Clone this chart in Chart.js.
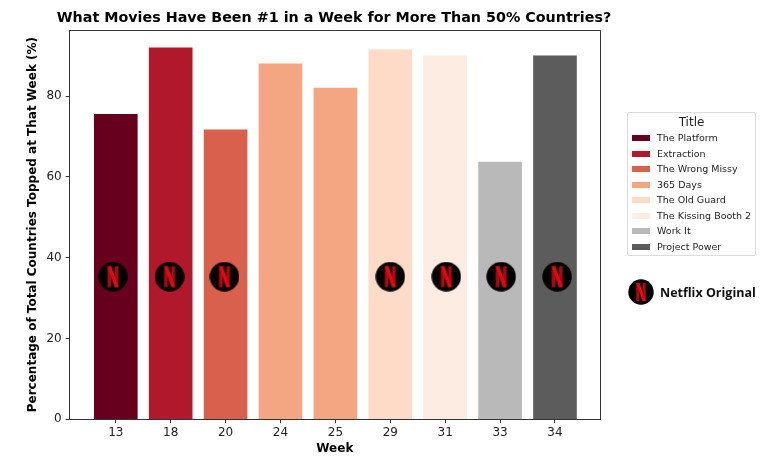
<!DOCTYPE html>
<html>
<head>
<meta charset="utf-8">
<script src="https://cdn.jsdelivr.net/npm/chart.js@4"></script>
<style>
  html, body { margin: 0; background: #fff; }
  #wrap { position: relative; width: 768px; height: 456px; overflow: hidden; }
  #title { position: absolute; left: 34px; top: 8px; width: 600px; text-align: center; white-space: nowrap; font: bold 14.3px/18px "DejaVu Sans"; color: #000; }
  #legend { position: absolute; left: 627px; top: 112px; width: 127px; height: 142px; border: 1px solid #dcdcdc; border-radius: 2px; font: 9.5px "DejaVu Sans"; color: #222; }
  #legend .ttl { text-align: center; font-size: 12px; line-height: 14px; margin-top: 2px; margin-bottom: 1px; }
  #legend .row { height: 15.5px; line-height: 15.5px; white-space: nowrap; }
  #legend .sw { display: inline-block; width: 18px; height: 6px; margin: 0 7px 1px 4px; vertical-align: middle; }
  #nf { position: absolute; left: 628px; top: 279px; height: 26px; display: flex; align-items: center; font: bold 12.5px "Open Sans"; color: #111; }
  #nf canvas { margin-right: 6px; }
</style>
</head>
<body>
<div id="wrap">
  <canvas id="myChart" width="768" height="456"></canvas>
  <div id="title">What Movies Have Been #1 in a Week for More Than 50% Countries?</div>
  <div id="legend"></div>
  <div id="nf"></div>
</div>
<script>
const weeks = ['13', '18', '20', '24', '25', '29', '31', '33', '34'];
const topped = [75.5, 92, 71.7, 88, 82, 91.5, 90, 63.7, 90];
const colors = ['#67001f', '#b2182b', '#d9604d', '#f4a582', '#f4a582', '#fddbc7', '#fdece2', '#b9b9b9', '#5c5c5c'];
// logos were pasted on by hand in the original, so they sit a little off the bar centres
const logoX = [-0.05, 0.98, 1.98, 5.0, 6.02, 7.02, 8.04];
const logoY = [35.3, 35.3, 35.3, 35.3, 35.3, 35.3, 35.3];
const legendNames = ['The Platform', 'Extraction', 'The Wrong Missy', '365 Days', 'The Old Guard', 'The Kissing Booth 2', 'Work It', 'Project Power'];
const legendColors = ['#67001f', '#b2182b', '#d9604d', '#f4a582', '#fddbc7', '#fdece2', '#b9b9b9', '#5c5c5c'];
const yTicks = [0, 20, 40, 60, 80];

// netflix badge, used as the point style and in the side note
function makeLogo(size) {
  const c = document.createElement('canvas');
  c.width = size; c.height = size;
  const g = c.getContext('2d');
  const s = size / 30;
  g.fillStyle = '#000';
  g.beginPath();
  g.arc(size / 2, size / 2, size / 2 - 0.3, 0, Math.PI * 2);
  g.fill();
  g.fillStyle = '#a80a12';
  g.fillRect(9.5 * s, 4.5 * s, 3.6 * s, 21 * s);
  g.fillRect(16.9 * s, 4.5 * s, 3.6 * s, 21 * s);
  g.fillStyle = '#e50914';
  g.beginPath();
  g.moveTo(9.5 * s, 4.5 * s);
  g.lineTo(13.3 * s, 4.5 * s);
  g.lineTo(20.5 * s, 25.5 * s);
  g.lineTo(16.7 * s, 25.5 * s);
  g.closePath();
  g.fill();
  return c;
}

const frame = {
  id: 'frame',
  afterDraw(chart) {
    const a = chart.chartArea, g = chart.ctx;
    g.save();
    g.strokeStyle = '#333';
    g.lineWidth = 1;
    g.beginPath();
    g.moveTo(a.left, a.top + 0.5);
    g.lineTo(a.right + 0.5, a.top + 0.5);
    g.lineTo(a.right + 0.5, a.bottom);
    g.stroke();
    g.restore();
  }
};

new Chart(document.getElementById('myChart'), {
  type: 'bar',
  data: {
    datasets: [{
      label: 'Netflix Original',
      type: 'scatter',
      order: 0,
      data: logoX.map((x, i) => ({ x: x, y: logoY[i] })),
      pointStyle: makeLogo(30),
      pointRadius: 15
    }, {
      label: 'Share',
      order: 1,
      data: topped.map((v, i) => ({ x: i, y: v })),
      backgroundColor: colors,
      barThickness: 43
    }]
  },
  options: {
    responsive: false,
    animation: false,
    layout: { padding: { left: 26, right: 168, top: 30, bottom: 0 } },
    plugins: {
      legend: { display: false },
      tooltip: { enabled: false }
    },
    scales: {
      x: {
        type: 'linear',
        offset: false,
        min: -0.84,
        max: 8.82,
        afterBuildTicks(scale) { scale.ticks = weeks.map((w, i) => ({ value: i })); },
        grid: { offset: false, drawOnChartArea: false, tickLength: 4, tickColor: '#333' },
        border: { color: '#333' },
        ticks: {
          autoSkip: false,
          maxRotation: 0,
          padding: 2,
          color: '#222',
          font: { family: 'DejaVu Sans', size: 12 },
          callback: v => weeks[v]
        },
        title: {
          display: true,
          text: 'Week',
          color: '#000',
          font: { family: 'DejaVu Sans', size: 12, weight: 'bold' },
          padding: { top: 0, bottom: 0 }
        }
      },
      y: {
        min: 0,
        max: 96.4,
        afterBuildTicks(scale) { scale.ticks = yTicks.map(v => ({ value: v })); },
        grid: { drawOnChartArea: false, tickLength: 4, tickColor: '#333' },
        border: { color: '#333' },
        ticks: {
          padding: 4,
          color: '#222',
          font: { family: 'DejaVu Sans', size: 12 }
        },
        title: {
          display: true,
          text: 'Percentage of Total Countries Topped at That Week (%)',
          color: '#000',
          font: { family: 'DejaVu Sans', size: 12, weight: 'bold' },
          padding: { top: 0, bottom: 2 }
        }
      }
    }
  },
  plugins: [frame]
});

// side legend
const box = document.getElementById('legend');
box.innerHTML = '<div class="ttl">Title</div>' + legendNames.map((n, i) =>
  '<div class="row"><span class="sw" style="background:' + legendColors[i] + '"></span>' + n + '</div>').join('');
const nf = document.getElementById('nf');
nf.appendChild(makeLogo(26));
nf.appendChild(document.createTextNode('Netflix Original'));
</script>
</body>
</html>
